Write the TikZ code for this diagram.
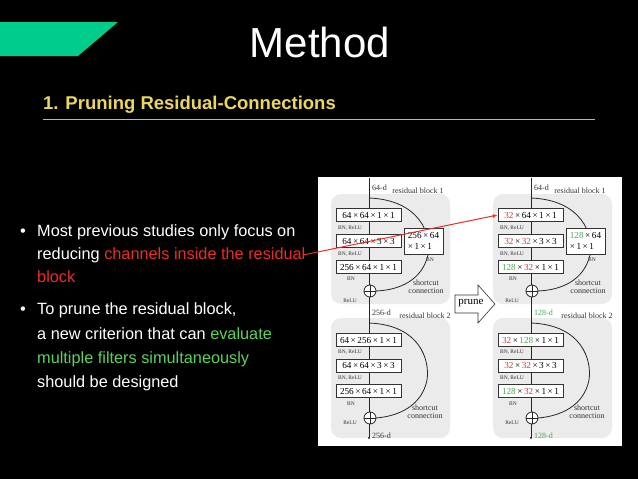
\documentclass[tikz,border=0pt]{standalone}
\usepackage{fontspec}
\setmainfont{Liberation Sans}
\newfontfamily\serf{Liberation Serif}
\usetikzlibrary{arrows.meta}
\definecolor{tealg}{RGB}{0,204,140}
\definecolor{ylw}{RGB}{235,215,90}
\definecolor{uline}{RGB}{215,190,70}
\definecolor{txred}{RGB}{235,45,40}
\definecolor{txgrn}{RGB}{90,210,90}
\definecolor{fred}{RGB}{205,60,60}
\definecolor{fgrn}{RGB}{70,170,80}
\definecolor{gpanel}{RGB}{235,235,235}
\begin{document}
\begin{tikzpicture}[x=1pt,y=-1pt,
  bul/.style={anchor=base west,text=white,font=\fontsize{16.3}{16}\selectfont,inner sep=0},
  lay/.style={draw=black!80,fill=white,line width=0.6pt,minimum width=65pt,minimum height=13pt,inner sep=0,font=\serf\fontsize{9.2}{9}\selectfont},
  side/.style={draw=black!80,fill=white,line width=0.6pt,minimum width=39pt,minimum height=26pt,inner sep=0,align=left,font=\serf\fontsize{9.2}{11}\selectfont},
  sm/.style={font=\serf\fontsize{5.5}{6}\selectfont,inner sep=0,text=black!80},
  lab/.style={font=\serf\fontsize{8}{8}\selectfont,inner sep=0,text=black!80},
  gp/.style={fill=gpanel,rounded corners=10pt},
  ln/.style={line width=0.8pt,black!85},
  plus/.style={circle,draw=black!85,fill=white,line width=0.8pt,minimum size=12pt,inner sep=0}]
\useasboundingbox (0,0) rectangle (638,479);
\fill[black] (0,0) rectangle (638,479);
\fill[tealg] (0,22) -- (118,22) -- (78,56) -- (0,56) -- cycle;
\node[text=white,font=\fontsize{42}{42}\selectfont] (title) at (320,42) {Method};
\node[anchor=base west,text=ylw,font=\bfseries\fontsize{18.5}{18}\selectfont,inner sep=0] (sub) at (43,109) {1. Pruning Residual-Connections};
\draw[uline,line width=1pt] (43,119) -- (595,119);
% bullets
\node[bul] (b1) at (20,236) {•};
\node[bul] (l1) at (37,236) {Most previous studies only focus on};
\node[bul] (l2) at (37,259) {reducing \textcolor{txred}{channels inside the residual}};
\node[bul] (l3) at (37,282) {\textcolor{txred}{block}};
\node[bul] (b2) at (20,314) {•};
\node[bul] (l4) at (37,314) {To prune the residual block,};
\node[bul] (l5) at (37,339) {a new criterion that can \textcolor{txgrn}{evaluate}};
\node[bul] (l6) at (37,363) {\textcolor{txgrn}{multiple filters simultaneously}};
\node[bul] (l7) at (37,387) {should be designed};
% figure panel
\fill[white] (318,177) rectangle (622,446);
\foreach \dx in {0,162}{
\begin{scope}[xshift=\dx]
\fill[gp] (331,194) rectangle (450,304);
\fill[gp] (331,318) rectangle (450,438);
\end{scope}}
% ---- left column
\draw[ln] (369,178) -- (369,285);
\draw[ln,-{Latex[length=3pt]}] (369,297) -- (369,440);
\draw[ln] (369,198) .. controls (420,200) and (432,235) .. (428,255) .. controls (422,280) and (400,290) .. (376,291);
\draw[ln] (369,323) .. controls (420,325) and (430,360) .. (427,380) .. controls (422,405) and (400,416) .. (376,418);
\node[lay] (a1) at (368.5,215) {64\,×\,64\,×\,1\,×\,1};
\node[lay] (a2) at (368.5,241) {64\,×\,64\,×\,3\,×\,3};
\node[lay] (a3) at (368.5,267) {256\,×\,64\,×\,1\,×\,1};
\node[side] (as) at (423.5,241) {256\,×\,64\\×\,1\,×\,1};
\node[plus] (ap) at (370,291) {};
\draw[ln] (ap.north) -- (ap.south) (ap.west) -- (ap.east);
\node[lay] (c1) at (368.5,340) {64\,×\,256\,×\,1\,×\,1};
\node[lay] (c2) at (368.5,365.5) {64\,×\,64\,×\,3\,×\,3};
\node[lay] (c3) at (368.5,391) {256\,×\,64\,×\,1\,×\,1};
\node[plus] (cp) at (370,418) {};
\draw[ln] (cp.north) -- (cp.south) (cp.west) -- (cp.east);
\node[lab,anchor=west] (d1) at (372,188) {64-d};
\node[lab] (rb1) at (418,191) {residual block 1};
\node[lab,anchor=west] (d2) at (372,313) {256-d};
\node[lab] (rb2) at (425,316) {residual block 2};
\node[lab,anchor=west] (d3) at (372,436) {256-d};
\node[sm] (s1) at (350,228) {BN, ReLU};
\node[sm] (s2) at (350,254) {BN, ReLU};
\node[sm] (s3) at (351,279) {BN};
\node[sm] (s4) at (350,301) {ReLU};
\node[sm] (s5) at (430,260) {BN};
\node[lab,align=center] (sc1) at (426,287) {shortcut\\connection};
\node[sm] (t1) at (350,352) {BN, ReLU};
\node[sm] (t2) at (350,378) {BN, ReLU};
\node[sm] (t3) at (351,404) {BN};
\node[sm] (t4) at (350,423) {ReLU};
\node[lab,align=center] (sc2) at (425,412) {shortcut\\connection};
% ---- right column
\draw[ln] (531,178) -- (531,285);
\draw[ln,-{Latex[length=3pt]}] (531,297) -- (531,440);
\draw[ln] (531,198) .. controls (582,200) and (594,235) .. (590,255) .. controls (584,280) and (562,290) .. (538,291);
\draw[ln] (531,323) .. controls (582,325) and (592,360) .. (589,380) .. controls (584,405) and (562,416) .. (538,418);
\node[lay] (e1) at (530.5,215) {\textcolor{fred}{32}\,×\,64\,×\,1\,×\,1};
\node[lay] (e2) at (530.5,241) {\textcolor{fred}{32}\,×\,\textcolor{fred}{32}\,×\,3\,×\,3};
\node[lay] (e3) at (530.5,267) {\textcolor{fgrn}{128}\,×\,\textcolor{fred}{32}\,×\,1\,×\,1};
\node[side] (es) at (585.5,241) {\textcolor{fgrn}{128}\,×\,64\\×\,1\,×\,1};
\node[plus] (ep) at (532,291) {};
\draw[ln] (ep.north) -- (ep.south) (ep.west) -- (ep.east);
\node[lay] (f1) at (530.5,340) {\textcolor{fred}{32}\,×\,\textcolor{fgrn}{128}\,×\,1\,×\,1};
\node[lay] (f2) at (530.5,365.5) {\textcolor{fred}{32}\,×\,\textcolor{fred}{32}\,×\,3\,×\,3};
\node[lay] (f3) at (530.5,391) {\textcolor{fgrn}{128}\,×\,\textcolor{fred}{32}\,×\,1\,×\,1};
\node[plus] (fp) at (532,418) {};
\draw[ln] (fp.north) -- (fp.south) (fp.west) -- (fp.east);
\node[lab,anchor=west] (g1) at (534,188) {64-d};
\node[lab] (rb3) at (580,191) {residual block 1};
\node[lab,anchor=west,text=fgrn] (g2) at (534,313) {128-d};
\node[lab] (rb4) at (587,316) {residual block 2};
\node[lab,anchor=west,text=fgrn] (g3) at (534,436) {128-d};
\node[sm] (u1) at (512,228) {BN, ReLU};
\node[sm] (u2) at (512,254) {BN, ReLU};
\node[sm] (u3) at (513,279) {BN};
\node[sm] (u4) at (512,301) {ReLU};
\node[sm] (u5) at (592,260) {BN};
\node[lab,align=center] (sc3) at (588,287) {shortcut\\connection};
\node[sm] (v1) at (512,352) {BN, ReLU};
\node[sm] (v2) at (512,378) {BN, ReLU};
\node[sm] (v3) at (513,404) {BN};
\node[sm] (v4) at (512,423) {ReLU};
\node[lab,align=center] (sc4) at (587,412) {shortcut\\connection};
% prune arrow
\draw[black!80,fill=white,line width=0.6pt] (455,295) -- (478,295) -- (478,285) -- (495,304) -- (478,323) -- (478,313) -- (455,313) -- cycle;
\node[font=\serf\fontsize{11}{11}\selectfont,inner sep=0] (pr) at (471,303) {prune};
% red arrow
\coordinate (rs) at (303,255);
\draw[txred,line width=1pt,-{Latex[length=5pt]}] (rs) -- (e1.west);
\end{tikzpicture}
\end{document}
